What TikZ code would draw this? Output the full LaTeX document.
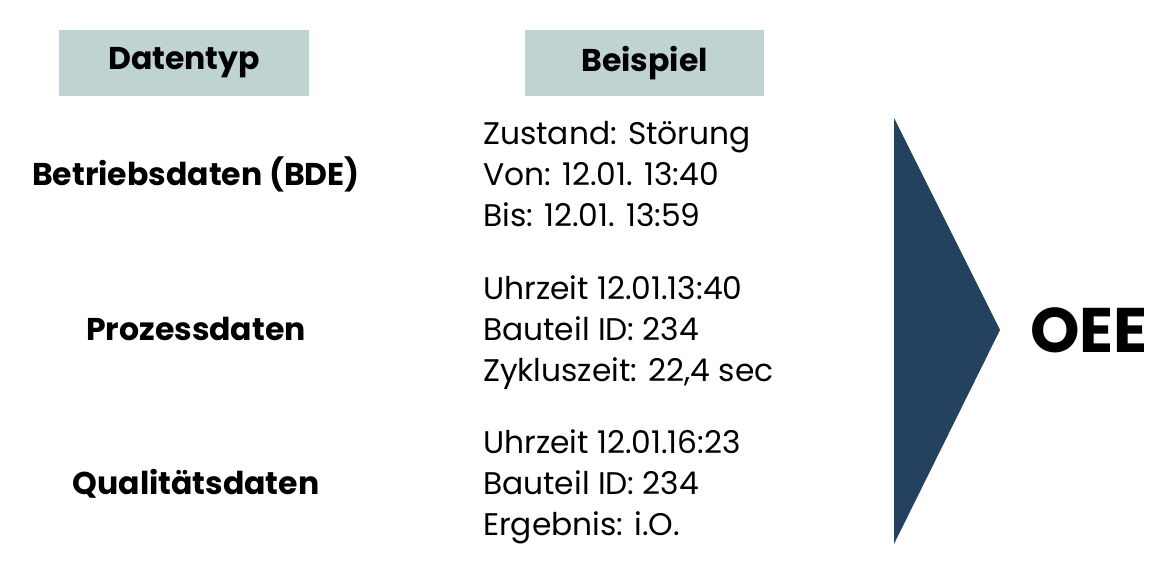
\documentclass[tikz,border=0pt]{standalone}
\usepackage{fontspec}
\setmainfont{Poppins}
\definecolor{headfill}{HTML}{BFD3D3}
\definecolor{navy}{HTML}{24425F}
\begin{document}
\begin{tikzpicture}[x=1pt,y=-1pt,
  head/.style={fill=headfill,minimum width=250pt,minimum height=66pt,inner sep=0pt,font=\fontsize{31.5}{36}\selectfont\bfseries},
  kind/.style={font=\fontsize{31.5}{36}\selectfont\bfseries,inner sep=0pt},
  ex/.style={font=\fontsize{31.3}{41}\selectfont,inner sep=0pt,anchor=west,align=left,text depth=0pt}]
\useasboundingbox (0,0) rectangle (1160,574);
\node[head] (h1) at (184,63) {Datentyp};
\node[head,minimum width=239pt] (h2) at (644.5,63) {Beispiel};
\node[kind] (k1) at (196,174) {Betriebsdaten (BDE)};
\node[kind] (k2) at (196,329) {Prozessdaten};
\node[kind] (k3) at (196,484) {Qualitätsdaten};
\node[ex] (e1) at (483,174) {Zustand: Störung\\Von: 12.01. 13:40\\Bis: 12.01. 13:59};
\node[ex] (e2) at (483,329) {Uhrzeit 12.01.13:40\\Bauteil ID: 234\\Zykluszeit: 22,4 sec};
\node[ex] (e3) at (483,483) {Uhrzeit 12.01.16:23\\Bauteil ID: 234\\Ergebnis: i.O.};
\fill[navy] (894,118) coordinate (t1) -- (1000,330) coordinate (tip) -- (894,544) coordinate (t2) -- cycle;
\node[font=\fontsize{63}{68}\selectfont\bfseries,inner sep=0pt,anchor=west] (oee) at (1030,330) {OEE};
\end{tikzpicture}
\end{document}
